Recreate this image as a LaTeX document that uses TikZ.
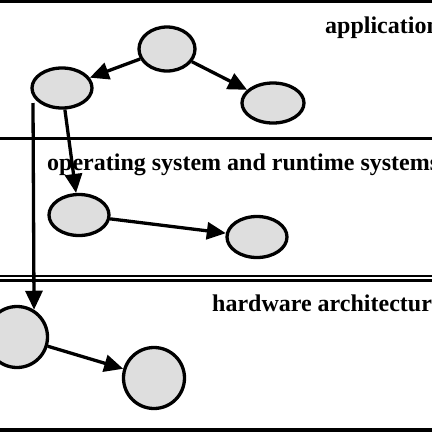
\documentclass[tikz,border=0pt]{standalone}
\usepackage{fontspec}
\setmainfont{Liberation Serif}
\usetikzlibrary{shapes.geometric,arrows.meta}
\tikzset{
  proc/.style={ellipse, draw=black, fill=black!13, line width=3.3pt, inner sep=0pt},
  arr/.style={line width=3.3pt, -{Triangle[length=19pt,width=17pt]}},
  layer/.style={font=\fontsize{24}{28}\selectfont\bfseries, anchor=base west, inner sep=0pt},
  sep/.style={draw=black}
}
\begin{document}
\begin{tikzpicture}[x=1pt,y=-1pt]
\useasboundingbox (0,0) rectangle (432,432);
\clip (0,0) rectangle (432,432);
\fill[white] (0,0) rectangle (432,432);
% separators
\draw[sep, line width=3.5pt] (0,1.5) -- (432,1.5);
\draw[sep, line width=3pt] (0,138) -- (432,138);
\draw[sep, line width=2.6pt] (0,276) -- (432,276);
\draw[sep, line width=2.6pt] (0,280.5) -- (432,280.5);
\draw[sep, line width=4.5pt] (0,430) -- (432,430);
% labels
\node[layer] (lapp) at (325,33) {application};
\node[layer] (los) at (47,170) {operating system and runtime systems};
\node[layer] (lhw) at (212,311) {hardware architecture};
% nodes
\node[proc, minimum width=56pt, minimum height=44pt] (A) at (167,49) {};
\node[proc, minimum width=60pt, minimum height=40pt] (B) at (62,88) {};
\node[proc, minimum width=62pt, minimum height=40pt] (C) at (273,103) {};
\node[proc, minimum width=60pt, minimum height=41pt] (D) at (79,215) {};
\node[proc, minimum width=60pt, minimum height=41pt] (E) at (257,237) {};
\node[proc, circle, minimum size=61pt] (F) at (17,337) {};
\node[proc, circle, minimum size=61pt] (G) at (154,378) {};
\coordinate (v) at (33,103);
% connectors
\draw[arr] (A) -- (B);
\draw[arr] (A) -- (C);
\draw[arr] (B) -- (D);
\draw[arr] (D) -- (E);
\draw[arr] (F) -- (G);
\draw[arr] (v) -- (F.58.5);
\end{tikzpicture}
\end{document}
